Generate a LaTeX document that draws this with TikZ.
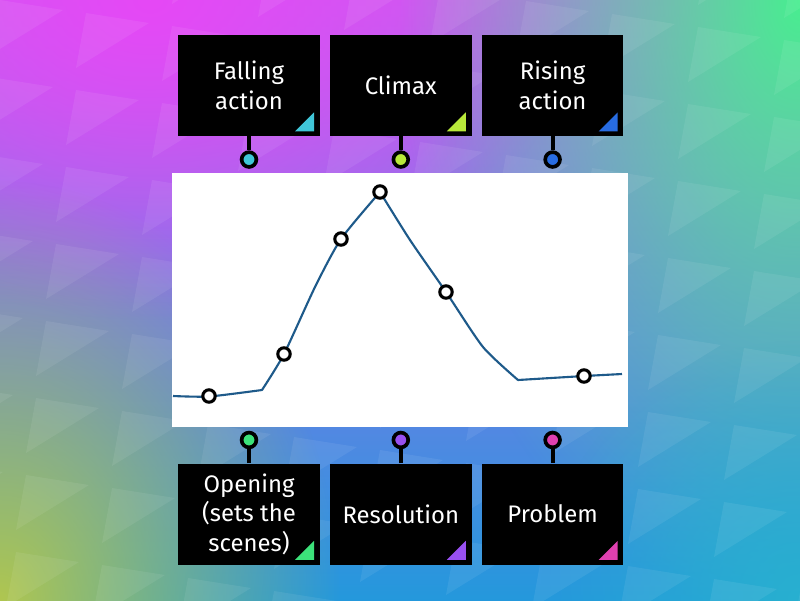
\documentclass[tikz,border=0pt]{standalone}
\usepackage{fontspec}
\setmainfont{Fira Sans}
\usetikzlibrary{positioning, calc, fadings}
\definecolor{fallcyan}{RGB}{64, 198, 216}
\definecolor{climaxlime}{RGB}{184, 232, 58}
\definecolor{risingblue}{RGB}{40, 108, 226}
\definecolor{openinggreen}{RGB}{60, 226, 122}
\definecolor{resolpurple}{RGB}{152, 80, 240}
\definecolor{problempink}{RGB}{224, 64, 176}
\definecolor{plotblue}{RGB}{30, 90, 138}
\definecolor{bgorchid}{RGB}{196, 96, 240}
\definecolor{bgviolet}{RGB}{130, 116, 232}
\definecolor{bgsky}{RGB}{36, 152, 220}
\definecolor{bgmagenta}{RGB}{230, 72, 246}
\definecolor{bggreen}{RGB}{72, 238, 144}
\definecolor{bgolive}{RGB}{176, 198, 80}
\definecolor{bgteal}{RGB}{40, 176, 208}
\tikzfading[name=softglow, inner color=transparent!0, outer color=transparent!100]

\begin{document}
\begin{tikzpicture}[x=0.025cm, y=-0.025cm,
        node distance=0.24cm,
        every node/.style={font=\fontsize{17}{21}\selectfont},
        cardbox/.style={fill=black, text=white, minimum width=3.54cm,
          minimum height=2.525cm, align=center, inner sep=0pt},
        pindot/.style={circle, draw=black, line width=2.6pt, minimum size=0.37cm, inner sep=0pt},
        pinline/.style={line width=2.8pt},
        plotdot/.style={circle, draw=black, fill=white, line width=2.2pt,
          minimum size=0.31cm, inner sep=0pt},
        plotline/.style={plotblue, line width=1.5pt, line join=round}]

        \useasboundingbox (0,0) rectangle (800,600);

        % Background
        \shade[top color=bgorchid, middle color=bgviolet, bottom color=bgsky] (0,0) rectangle (800,600);
        \fill[bgmagenta, path fading=softglow] (150,0) ellipse [x radius=430, y radius=320];
        \fill[bggreen, path fading=softglow] (800,0) ellipse [x radius=400, y radius=620];
        \fill[bgolive, path fading=softglow] (0,600) ellipse [x radius=340, y radius=420];
        \fill[bgteal, path fading=softglow] (800,600) ellipse [x radius=260, y radius=260];
        \foreach \i in {-1,...,10}
          \foreach \j in {-2,...,8}
            \fill[white, fill opacity=0.07] ({\i*86-\j*10},{\i*13+\j*77}) -- ++(63,10) -- ++(-73,45) -- cycle;

        % Plot panel
        \fill[white] (172,173) rectangle (628,427);
        \draw[plotline] plot[smooth, tension=0.4] coordinates {(173,396) (209,396.5) (262,390)}
          -- plot[smooth, tension=0.4] coordinates {(262,390) (284,354) (315,287) (341,239) (380,192)}
          -- plot[smooth, tension=0.4] coordinates {(380,192) (410,240) (446,292) (483,347) (518,380)}
          -- plot coordinates {(518,380) (584,376) (622,374)};
        \node[plotdot] (openpt) at (209,396) {};
        \node[plotdot] (problempt) at (284,354) {};
        \node[plotdot] (risept) at (341,239) {};
        \node[plotdot] (climaxpt) at (380,192) {};
        \node[plotdot] (fallpt) at (446,292) {};
        \node[plotdot] (resolpt) at (584,376) {};

        % Top cards
        \node[cardbox] (fall) at (249,85.5) {Falling\\action};
        \node[cardbox, right=of fall] (climax) {Climax};
        \node[cardbox, right=of climax] (rising) {Rising\\action};

        % Bottom cards
        \node[cardbox] (opening) at (249,514) {Opening\\(sets the\\scenes)};
        \node[cardbox, right=of opening] (resol) {Resolution};
        \node[cardbox, right=of resol] (problem) {Problem};

        % Pins
        \node[pindot, fill=fallcyan, below=0.35cm of fall] (fallpin) {};
        \node[pindot, fill=climaxlime, below=0.35cm of climax] (climaxpin) {};
        \node[pindot, fill=risingblue, below=0.35cm of rising] (risingpin) {};
        \node[pindot, fill=openinggreen, above=0.35cm of opening] (openingpin) {};
        \node[pindot, fill=resolpurple, above=0.35cm of resol] (resolpin) {};
        \node[pindot, fill=problempink, above=0.35cm of problem] (problempin) {};
        \foreach \card in {fall, climax, rising, opening, resol, problem}
          \draw[pinline] (\card) -- (\card pin);

        % Corner marks
        \foreach \card/\tint in {fall/fallcyan, climax/climaxlime, rising/risingblue,
            opening/openinggreen, resol/resolpurple, problem/problempink}
          \fill[\tint] ($(\card.south east)+(-6,-5)$) -- ++(-19,0) -- ++(19,-19) -- cycle;

    \end{tikzpicture}
\end{document}
